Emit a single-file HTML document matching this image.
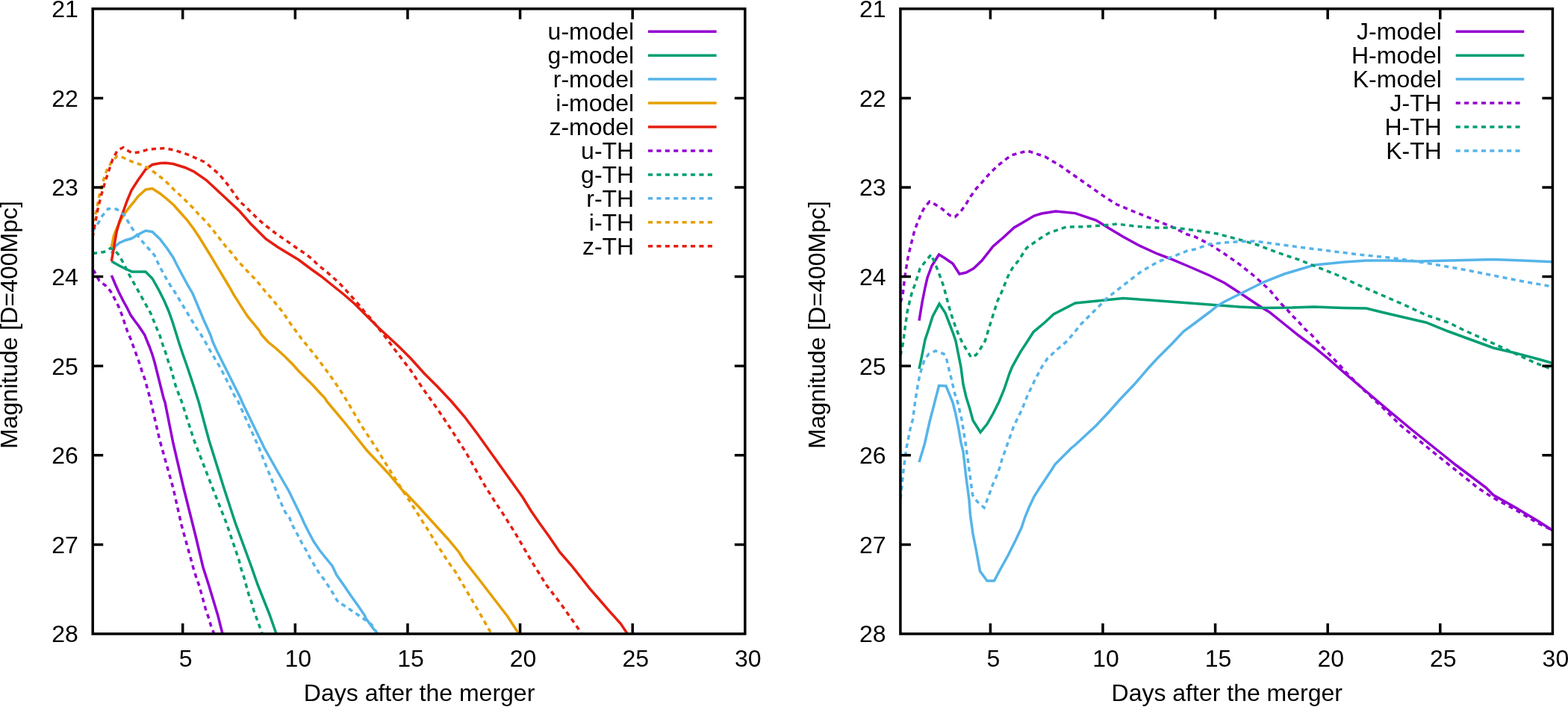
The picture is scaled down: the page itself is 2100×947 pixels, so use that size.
<!DOCTYPE html>
<html><head><meta charset="utf-8"><title>Light curves</title>
<style>html,body{margin:0;padding:0;background:#fff;}svg{display:block;}</style></head><body>
<svg width="2100" height="947" viewBox="0 0 2100 947">
<rect width="2100" height="947" fill="#fff"/>
<defs>
<clipPath id="cl"><rect x="124.2" y="11.8" width="873.60" height="837.20"/></clipPath>
<clipPath id="cr"><rect x="1205.9" y="11.8" width="873.50" height="837.20"/></clipPath>
</defs>
<g clip-path="url(#cl)" fill="none" stroke-width="3.5" stroke-linejoin="miter" stroke-linecap="butt">
<polyline points="149.4,368.8 154,380 159,391 165,403 170,412 175,422 180,429 186,437 190,443 194,449 195,452 200,464 204,475 207,485 210,497 213,509 216,521 219,533 221,539 232,594 246,654 262,718 272,760 280,785 286,805 292,825 297.5,847 299,852" stroke="#9400D3"/>
<polyline points="149.4,350 160,356 168,360 177,364 195,364 204,373 213,389 220,403 226,417 231,431 236,447 240,460 245,475 250,489 255,504 260,519 265,535 266,538 280,590 300,654 315,700 337,760 345,783 353,803 361,823 369,846 371,852" stroke="#009E73"/>
<polyline points="149.3,339.4 154.3,329.9 159.8,325.4 168,321.7 176.1,319.5 181.6,316.3 186.1,313.6 195,309 204,310.5 214,320 224,333 232,345 237,355 245,370 252,383 258,393 263,405 268,417 273,429 278,440 282,449 285,458 291,471 298,485 304,497 310,509 316,521 322,533 324,538 354,600 372,632 387,658 404,693 407,700 413,712 420,725 428,737 436,747 445,758 450.7,770 460,783.3 470,798 480,812 488.7,824.7 489.5,827.6 494.6,834.6 499.7,841.6 504.4,847.2 508,852" stroke="#56B4E9"/>
<polyline points="149.3,330.8 152.5,315.4 156.1,306.3 159.8,299 163.4,291.8 168,284.5 174.3,276.4 179.7,270 185,263 195,254 204,252.5 214,259 224,267 233,275 240,283 250,294 259,306 267,318 275,331 280.6,340 287.7,351.8 294.8,363.7 301.9,375.5 309,387.3 313.2,395 316.8,400.6 323.9,411.9 331.6,423.7 339.3,433.2 347.6,443.2 350,448 359,458 370,467 382,478 392,488 400,497 410,507 420,517 430,528 435,533 438,538 460,564 492,604 520,634 540,658 543,660 560,678 580,700 600,722 615,740 621,750 640,774 660,800 680,826 691,843 693.5,847 696,852" stroke="#E69F00"/>
<polyline points="149.3,349.9 153,329 156.1,310.8 159.8,297.2 164.3,285.4 169.8,270 176,255 185,241 195,227 204,220.5 215,218.5 222,218.3 232,219.5 248,224.5 260,230 276,241 290,254 304,267 321,283 336,300 356,320 372,331 400,348 416,360 430,370 445,382 460,394 475,407 490,422 500,432 508,440 520,451 535,465 550,480 568,500 586,518 604,537 622,558 640,582 660,610 680,638 700,666 711,684 722,700 735,718 750,740 765,757 775.3,770 790,788.7 800,800 814.8,817.1 831.4,835.5 839.1,847.3 842.5,852" stroke="#E51E10"/>
<polyline points="124,362 126,363 133,376 142,383 148,390 154,401 159,411 163,421 167,433 171,445 175,454 179,465 183,476 187,487 190,497 194,508 197,519 200,530 202,538 214,590 232,654 243,703 259,761 263,774 267,785 270,796 273,807 276,818 280,829 283,840 286,847 287.5,852" stroke="#9400D3" stroke-dasharray="6.1 5.3"/>
<polyline points="124,339.5 139,337.5 148,332.5 151,333.5 158,340 164,350 173,368 182,384 192,402 202,420 210,440 214,449 218,462 222,473 225,483 229,494 232,505 235,516 239,527 243,537 260,590 284,652 303,700 320,750 323,762 327,774 330,785 333,796 337,807 340,818 344,829 348,840 351,849 352,852" stroke="#009E73" stroke-dasharray="6.1 5.3"/>
<polyline points="124,310 132,298 137,289 145,279.5 156,280 166,287.5 171,296 177,306 184,315 191,324 199,333 207,342 211,351 216,361 222,372 228,382 234,391 240,401 246,411 252,421 258,431 264,441 269,448 275,458 281,469 287,479 293,489 299,500 304,510 309,520 314,530 319,538 338,580 347,600 356,623 365,645 373,666 382,686 387.5,693 392,704 393,706 399,717 404,727 410,737 415,747 421,757 427,767 433.3,775.3 440,785.3 446,794.7 451.3,804 454,807.3 461.3,811.3 470.7,817.7 480,824 488.7,830 492,832 497.9,837 503.4,845.3 505,848.5 507,852" stroke="#56B4E9" stroke-dasharray="6.1 5.3"/>
<polyline points="124,298 129,283 133,262 138,243 143,228 150,216 157,209 159,208.5 168,212.5 179,217.5 190,221 199,225.5 209,232.5 220,241 228,249 236,257 245,265 251,271 259,279 266,287 274,295 282,304 289,313 296,322 303,331 311.4,340 317.9,348.9 325.6,357.1 333.3,365.4 341,373.1 348.1,381.4 356.4,391.8 363.5,399.5 370.6,408.3 378,417.2 383.7,425.5 388,432 404,454 422,476 440,500 454,520 464,536 484,570 505,602 526,636 540,658 543,663 550,673 556,683 562,692 568,702 574,711 580,721 586,731 593,741 599,751 610,766 630,800 644,824 657,847 659,852" stroke="#E69F00" stroke-dasharray="6.1 5.3"/>
<polyline points="124,318 131,280 136,260 141,243 146,228 151,213 157,202 160,200 165,197.5 169,200.5 177,205 188,203.5 199,200 210,199.2 221,198.5 233,201 244,204.5 254,208 264,212.5 275,217.5 283,224.5 292,232 300,241 307,250 314,260 321,270 328,276 336,284 344,292 353,300 362,307 371,314 380,320 390,327 400,334 409,340 418,347 426,355 435,362 443,369 452,377 460,385 468,394 476,403 483,411 490,420 497,427 500,431 512,446 530,470 550,496 566,520 586,548 606,578 624,606 645,643 652,655 658,664 664,674 671,684 690,714 712,752 732,784 752,810 778,847 780,852" stroke="#E51E10" stroke-dasharray="6.1 5.3"/>
</g>
<g fill="none" stroke-width="3.5" stroke-linecap="butt">
<line x1="868.0" y1="42.20" x2="959.60" y2="42.20" stroke="#9400D3"/>
<line x1="868.0" y1="74.15" x2="959.60" y2="74.15" stroke="#009E73"/>
<line x1="868.0" y1="106.10" x2="959.60" y2="106.10" stroke="#56B4E9"/>
<line x1="868.0" y1="138.05" x2="959.60" y2="138.05" stroke="#E69F00"/>
<line x1="868.0" y1="170.00" x2="959.60" y2="170.00" stroke="#E51E10"/>
<line x1="868.0" y1="201.95" x2="958.80" y2="201.95" stroke="#9400D3" stroke-dasharray="6.1 5.3"/>
<line x1="868.0" y1="233.90" x2="958.80" y2="233.90" stroke="#009E73" stroke-dasharray="6.1 5.3"/>
<line x1="868.0" y1="265.85" x2="958.80" y2="265.85" stroke="#56B4E9" stroke-dasharray="6.1 5.3"/>
<line x1="868.0" y1="297.80" x2="958.80" y2="297.80" stroke="#E69F00" stroke-dasharray="6.1 5.3"/>
<line x1="868.0" y1="329.75" x2="958.80" y2="329.75" stroke="#E51E10" stroke-dasharray="6.1 5.3"/>
</g>
<g style="font-family:'Liberation Sans',Arial,Helvetica,sans-serif;font-size:32px;fill:#000" text-anchor="end">
<text x="849.2" y="53.40">u-model</text>
<text x="849.2" y="85.35">g-model</text>
<text x="849.2" y="117.30">r-model</text>
<text x="849.2" y="149.25">i-model</text>
<text x="849.2" y="181.20">z-model</text>
<text x="849.2" y="213.15">u-TH</text>
<text x="849.2" y="245.10">g-TH</text>
<text x="849.2" y="277.05">r-TH</text>
<text x="849.2" y="309.00">i-TH</text>
<text x="849.2" y="340.95">z-TH</text>
</g>
<path d="M244.70 849.00L244.70 835.00 M244.70 11.80L244.70 25.80 M395.32 849.00L395.32 835.00 M395.32 11.80L395.32 25.80 M545.94 849.00L545.94 835.00 M545.94 11.80L545.94 25.80 M696.56 849.00L696.56 835.00 M696.56 11.80L696.56 25.80 M847.18 849.00L847.18 835.00 M847.18 11.80L847.18 25.80 M124.20 131.40L138.20 131.40 M997.80 131.40L983.80 131.40 M124.20 251.00L138.20 251.00 M997.80 251.00L983.80 251.00 M124.20 370.60L138.20 370.60 M997.80 370.60L983.80 370.60 M124.20 490.20L138.20 490.20 M997.80 490.20L983.80 490.20 M124.20 609.80L138.20 609.80 M997.80 609.80L983.80 609.80 M124.20 729.40L138.20 729.40 M997.80 729.40L983.80 729.40" stroke="#000" stroke-width="3.5" fill="none"/>
<rect x="124.2" y="11.8" width="873.60" height="837.20" stroke="#000" stroke-width="3.5" fill="none"/>
<g style="font-family:'Liberation Sans',Arial,Helvetica,sans-serif;font-size:32px;fill:#000" text-anchor="end">
<text x="104.90" y="23.10">21</text>
<text x="104.90" y="142.70">22</text>
<text x="104.90" y="262.30">23</text>
<text x="104.90" y="381.90">24</text>
<text x="104.90" y="501.50">25</text>
<text x="104.90" y="621.10">26</text>
<text x="104.90" y="740.70">27</text>
<text x="104.90" y="860.30">28</text>
</g>
<g style="font-family:'Liberation Sans',Arial,Helvetica,sans-serif;font-size:32px;fill:#000" text-anchor="middle">
<text x="248.70" y="893.2">5</text>
<text x="399.32" y="893.2">10</text>
<text x="549.94" y="893.2">15</text>
<text x="700.56" y="893.2">20</text>
<text x="851.18" y="893.2">25</text>
<text x="1001.80" y="893.2">30</text>
</g>
<text style="font-family:'Liberation Sans',Arial,Helvetica,sans-serif;font-size:32px;fill:#000" text-anchor="middle" x="561.60" y="939.4">Days after the merger</text>
<text style="font-family:'Liberation Sans',Arial,Helvetica,sans-serif;font-size:32px;fill:#000" text-anchor="middle" transform="translate(23.10,435) rotate(-90)">Magnitude [D=400Mpc]</text>
<g clip-path="url(#cr)" fill="none" stroke-width="3.5" stroke-linejoin="miter" stroke-linecap="butt">
<polyline points="1231,429.5 1235,405 1239,385 1242,372 1248,356 1257.5,341 1265,345.5 1276,353 1285,367 1294,365 1304,359.5 1315,349 1330,330 1345,317 1358,305 1370,298 1385,289 1395,286 1414,283 1440,285.6 1468,295 1484,305 1504,317 1524,328 1550,340 1566,346 1590,356 1620,369 1640,379 1660,392 1690,412 1700,418 1720,434 1740,450 1760,465 1780,481.5 1800,499 1820,516 1840,533 1860,550 1872,560 1890,575 1910,591 1930,607 1950,623 1970,638 1990,653 2000,663 2030,680 2060,698 2085,714" stroke="#9400D3"/>
<polyline points="1231,494 1235,475 1239,455 1244,440 1249,424 1258,407 1266,419 1276,445 1280,456.7 1283.3,473.3 1287,492 1290,515 1294,532 1299,548 1303,563 1313,579 1322,568 1330,554 1338,538 1345,521 1352,500 1355.3,492 1360,483.3 1366.7,471.3 1374.7,459.3 1384,444.7 1388,441.3 1400,431.3 1411,421 1440,406 1470,403 1504,399.6 1540,402 1580,405 1620,408 1660,411 1690,412.4 1730,412 1760,411 1800,412.4 1830,413 1850,418 1880,425 1910,432 1940,444 1970,455 2000,466 2030,473 2060,481 2085,488" stroke="#009E73"/>
<polyline points="1231,619 1238.5,594 1245,565 1251,542 1257.5,516.5 1267,517 1276,539 1280,555 1284,575 1287,593 1290,605 1294,640 1298,670 1299.5,690 1303,715 1307,735 1312.5,765 1322,778 1331.5,778 1340,762 1350,744 1360,724 1368,707 1373,692 1378,680 1385,665 1392,654 1400,642 1408,630 1413,622 1420,615 1428,607 1435,600 1440,596 1468,570 1484,553 1500,535 1520,514 1538,493 1550,480 1570,460 1585,444 1600,433 1620,418 1630,410 1640,404 1666,391 1692,378 1720,367 1760,355 1800,351 1830,349 1860,349 1900,350 1940,349 2000,347.6 2040,349 2085,351" stroke="#56B4E9"/>
<polyline points="1206,405 1209,395 1210.5,382 1212,370 1214,357 1216,345 1219,332 1222,320 1225,308 1229,298 1233,288 1238,278 1245,270 1252,273.5 1262,280 1272,288.5 1279,290.5 1287,283 1294,273 1300,263 1308,252 1312,248 1324,234 1336,222 1354,208 1376,202 1400,210 1420,222 1440,236 1460,250 1480,264 1496,274 1520,284 1550,296 1570,304 1590,314 1600,317 1620,327 1640,340 1660,354 1680,370 1700,388 1710,400 1716,407 1724,415 1732,424 1740,432 1748,441 1756,448 1764,457 1771,465 1779,473 1787,481.5 1795,490 1802,498 1810,506 1818,514 1826,522 1835,530 1843,538 1852,546 1860,554 1868,562 1876,570 1920,606 1960,638 1980,654 2000,667 2030,683 2060,701 2085,713" stroke="#9400D3" stroke-dasharray="6.1 5.3"/>
<polyline points="1206,476 1209,462 1210.5,452 1212,440 1214,426 1215,418 1218,405 1221,393 1225,382 1229,370 1232,360 1238,352 1247,341 1251,350 1256,362 1260,373 1264,384 1267,396 1270,407 1273,418 1280,438.7 1284,448.7 1288.7,458.7 1294.7,468.7 1300.7,478.7 1307.3,475.3 1313.3,466.7 1319.3,456.7 1322.7,445.3 1326,434.7 1330,422 1336,403 1342,390 1350,370 1356,359 1364,349 1375,332 1385,325 1395,318 1405,312 1428,304 1452,303.6 1476,302 1496,300 1520,303 1544,305 1572,305 1596,308 1630,313 1660,321 1684,328 1710,338 1740,348 1760,356 1790,368 1820,382 1850,395 1880,408 1910,422 1940,432 1960,442 2000,460 2030,474 2056,486 2085,497" stroke="#009E73" stroke-dasharray="6.1 5.3"/>
<polyline points="1206,668 1208,650 1210,630 1214,600 1220,570 1222.5,562 1225.5,539 1229,517 1231.5,504 1234,495 1238,482 1244,474 1253,470 1264,474 1268,482 1271,495 1274,507 1279,528 1283,540 1288,562 1293,593 1296.5,618 1299.5,640 1302.5,663 1305,667 1309,672 1318,680 1322,670 1326,659 1330,648 1335,637 1339,626 1342,615 1346,604 1358,570 1368,550 1376,530 1386,509 1395,492 1403,480 1416,468 1430,456 1448,434 1464,418 1484,398 1506,381 1528,364 1552,350 1570,344 1590,336 1600,334 1620,327 1640,325 1660,323.6 1680,323 1710,327 1740,331 1780,336 1820,341 1860,345 1890,349 1920,354 1960,361 2000,369 2040,377 2085,385" stroke="#56B4E9" stroke-dasharray="6.1 5.3"/>
</g>
<g fill="none" stroke-width="3.5" stroke-linecap="butt">
<line x1="1949.7" y1="42.20" x2="2041.30" y2="42.20" stroke="#9400D3"/>
<line x1="1949.7" y1="74.15" x2="2041.30" y2="74.15" stroke="#009E73"/>
<line x1="1949.7" y1="106.10" x2="2041.30" y2="106.10" stroke="#56B4E9"/>
<line x1="1949.7" y1="138.05" x2="2040.50" y2="138.05" stroke="#9400D3" stroke-dasharray="6.1 5.3"/>
<line x1="1949.7" y1="170.00" x2="2040.50" y2="170.00" stroke="#009E73" stroke-dasharray="6.1 5.3"/>
<line x1="1949.7" y1="201.95" x2="2040.50" y2="201.95" stroke="#56B4E9" stroke-dasharray="6.1 5.3"/>
</g>
<g style="font-family:'Liberation Sans',Arial,Helvetica,sans-serif;font-size:32px;fill:#000" text-anchor="end">
<text x="1930.9" y="53.40">J-model</text>
<text x="1930.9" y="85.35">H-model</text>
<text x="1930.9" y="117.30">K-model</text>
<text x="1930.9" y="149.25">J-TH</text>
<text x="1930.9" y="181.20">H-TH</text>
<text x="1930.9" y="213.15">K-TH</text>
</g>
<path d="M1326.38 849.00L1326.38 835.00 M1326.38 11.80L1326.38 25.80 M1476.99 849.00L1476.99 835.00 M1476.99 11.80L1476.99 25.80 M1627.59 849.00L1627.59 835.00 M1627.59 11.80L1627.59 25.80 M1778.19 849.00L1778.19 835.00 M1778.19 11.80L1778.19 25.80 M1928.80 849.00L1928.80 835.00 M1928.80 11.80L1928.80 25.80 M1205.90 131.40L1219.90 131.40 M2079.40 131.40L2065.40 131.40 M1205.90 251.00L1219.90 251.00 M2079.40 251.00L2065.40 251.00 M1205.90 370.60L1219.90 370.60 M2079.40 370.60L2065.40 370.60 M1205.90 490.20L1219.90 490.20 M2079.40 490.20L2065.40 490.20 M1205.90 609.80L1219.90 609.80 M2079.40 609.80L2065.40 609.80 M1205.90 729.40L1219.90 729.40 M2079.40 729.40L2065.40 729.40" stroke="#000" stroke-width="3.5" fill="none"/>
<rect x="1205.9" y="11.8" width="873.50" height="837.20" stroke="#000" stroke-width="3.5" fill="none"/>
<g style="font-family:'Liberation Sans',Arial,Helvetica,sans-serif;font-size:32px;fill:#000" text-anchor="end">
<text x="1186.60" y="23.10">21</text>
<text x="1186.60" y="142.70">22</text>
<text x="1186.60" y="262.30">23</text>
<text x="1186.60" y="381.90">24</text>
<text x="1186.60" y="501.50">25</text>
<text x="1186.60" y="621.10">26</text>
<text x="1186.60" y="740.70">27</text>
<text x="1186.60" y="860.30">28</text>
</g>
<g style="font-family:'Liberation Sans',Arial,Helvetica,sans-serif;font-size:32px;fill:#000" text-anchor="middle">
<text x="1330.38" y="893.2">5</text>
<text x="1480.99" y="893.2">10</text>
<text x="1631.59" y="893.2">15</text>
<text x="1782.19" y="893.2">20</text>
<text x="1932.80" y="893.2">25</text>
<text x="2083.40" y="893.2">30</text>
</g>
<text style="font-family:'Liberation Sans',Arial,Helvetica,sans-serif;font-size:32px;fill:#000" text-anchor="middle" x="1643.25" y="939.4">Days after the merger</text>
<text style="font-family:'Liberation Sans',Arial,Helvetica,sans-serif;font-size:32px;fill:#000" text-anchor="middle" transform="translate(1104.80,435) rotate(-90)">Magnitude [D=400Mpc]</text>
</svg>
</body></html>
